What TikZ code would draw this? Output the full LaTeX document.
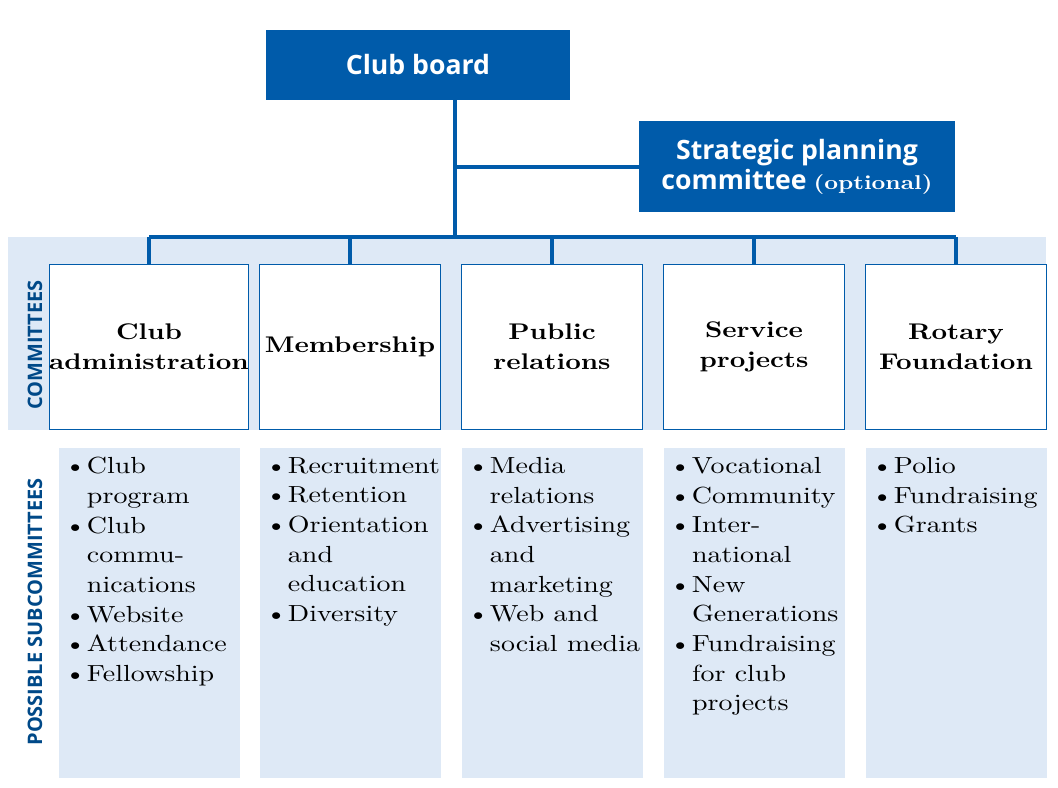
\documentclass[tikz,border=0pt]{standalone}
\usepackage{fontspec}
\newfontfamily\hd{Open Sans}
\newfontfamily\lst{lmroman10-regular.otf}[FakeStretch=1.2, BoldFont=lmroman10-bold.otf]
\usetikzlibrary{positioning}
\definecolor{rblue}{RGB}{0,91,170}
\definecolor{rlight}{RGB}{222,233,246}
\newcommand{\bi}{\makebox[0.6cm][l]{\textbullet}}
\newcommand{\ci}{\hspace*{0.6cm}}
\begin{document}
\begin{tikzpicture}[
    x=0.0264cm, y=-0.0264cm,
    % Top level boxes
    TopBox/.style={fill=rblue, text=white, font=\hd\bfseries\fontsize{20}{22}\selectfont,
      align=center, inner sep=0pt},
    CommBox/.style={draw=rblue, fill=white, line width=0.8pt, minimum width=181*0.0264cm,
      minimum height=165*0.0264cm, align=center, inner sep=0pt,
      font=\lst\bfseries\fontsize{17}{22.5}\selectfont},
    SubBox/.style={fill=rlight, minimum width=181*0.0264cm, minimum height=330*0.0264cm,
      inner sep=0pt},
    SubList/.style={anchor=north west, align=left, inner sep=0pt,
      font=\lst\fontsize{17.5}{22.3}\selectfont},
    Side/.style={rotate=90, font=\hd\bfseries\fontsize{15}{18}\selectfont, text=rblue!80!black},
    Wire/.style={rblue, line width=2.4pt}
  ]
  \useasboundingbox (0,0) rectangle (1058,788);

  % Light band behind committees
  \fill[rlight] (8,237) rectangle (1046,430);

  % Board and planning committee
  \node[TopBox, minimum width=304*0.0264cm, minimum height=70*0.0264cm] (board) at (418,65) {Club board};
  \node[TopBox, minimum width=316*0.0264cm, minimum height=91*0.0264cm] (plan) at (797,167)
    {Strategic planning\\committee {\lst\fontsize{15}{18}\selectfont(optional)}};
  \coordinate (bus) at (455,237);

  % Committees
  \foreach \n/\x/\t in {adm/149/Club\\administration, mem/350/Membership, pr/552/Public\\relations,
      srv/754/Service\\projects, rf/956/Rotary\\Foundation}{
    \node[CommBox] (\n) at (\x,347) {\t};
    \node[SubBox] (\n-sub) at (\x,613) {};
    \draw[Wire] (\n.north) -- (\n.north |- bus);
  }
  \draw[Wire] (board.south -| bus) -- (bus);
  \draw[Wire] (bus |- plan.west) -- (plan.west);
  \draw[Wire] (adm.north |- bus) -- (rf.north |- bus);

  % Side labels
  \node[Side] (lcomm) at (35,345) {COMMITTEES};
  \node[Side] (lsub) at (35,612) {POSSIBLE SUBCOMMITTEES};

  % Subcommittee lists
  \node[SubList] (l1) at (64,457) {\bi Club\\\ci program\\\bi Club\\\ci commu-\\\ci nications\\\bi Website\\\bi Attendance\\\bi Fellowship};
  \node[SubList] (l2) at (265,457) {\bi Recruitment\\\bi Retention\\\bi Orientation\\\ci and\\\ci education\\\bi Diversity};
  \node[SubList] (l3) at (467,457) {\bi Media\\\ci relations\\\bi Advertising\\\ci and\\\ci marketing\\\bi Web and\\\ci social media};
  \node[SubList] (l4) at (669,457) {\bi Vocational\\\bi Community\\\bi Inter-\\\ci national\\\bi New\\\ci Generations\\\bi Fundraising\\\ci for club\\\ci projects};
  \node[SubList] (l5) at (871,457) {\bi Polio\\\bi Fundraising\\\bi Grants};
\end{tikzpicture}
\end{document}
